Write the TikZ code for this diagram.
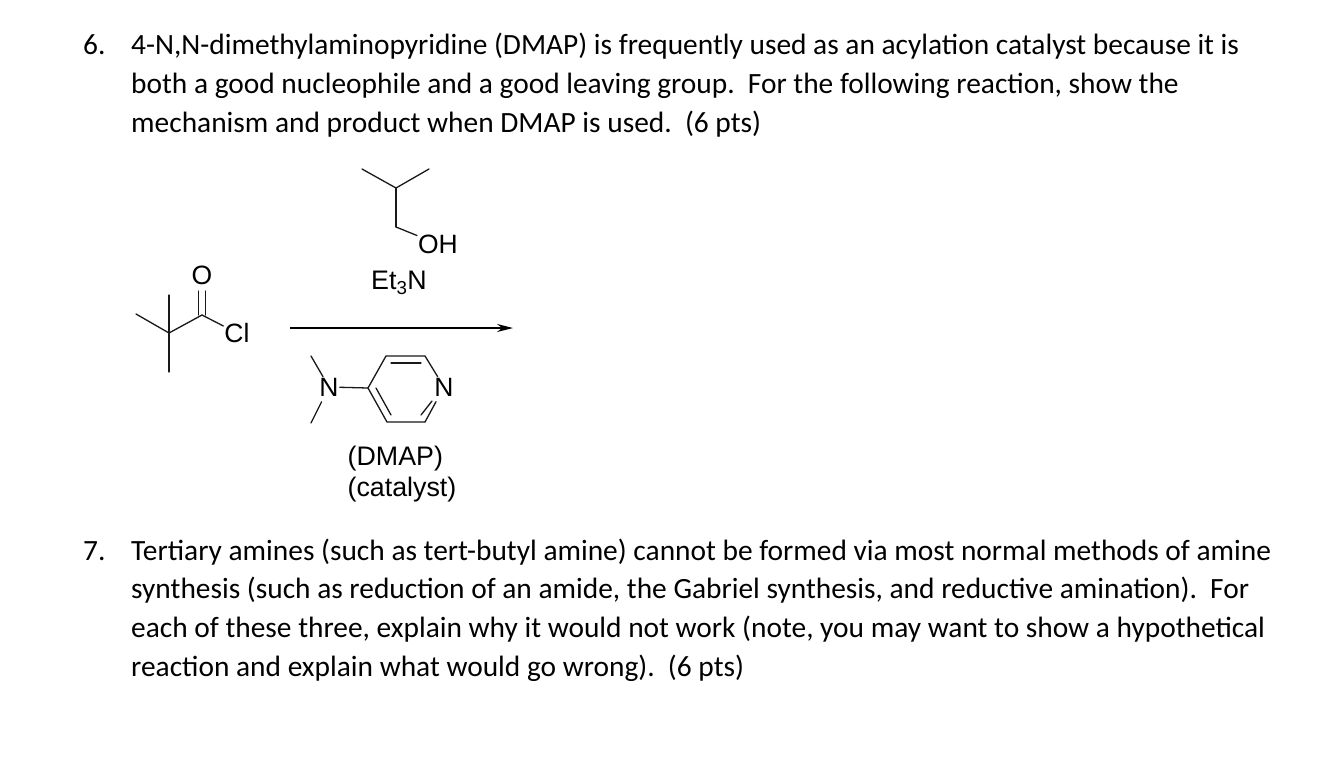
\documentclass[tikz,border=0pt]{standalone}
\usepackage{fontspec}
\setmainfont{Carlito}
\newfontfamily\chemfont{Liberation Sans}
\usetikzlibrary{arrows.meta, positioning}
\tikzstyle{question}=[inner sep=0pt, anchor=base west, font=\fontsize{29.4}{36}\selectfont]
\tikzstyle{atom}=[inner sep=1pt, font=\chemfont\fontsize{26.5}{26.5}\selectfont]
\tikzstyle{chemtext}=[inner sep=0pt, align=left, font=\chemfont\fontsize{26.8}{30.5}\selectfont]
\tikzstyle{bond}=[line width=1.3pt, line cap=round, black!90]

\begin{document}
\begin{tikzpicture}[x=1pt,y=-1pt]
\useasboundingbox[fill=white] (0,0) rectangle (1330,772);

% question 6
\node[question] (num6) at (83,54) {6.};
\node[question] (line61) at (131,54) {4-N,N-dimethylaminopyridine (DMAP) is frequently used as an acylation catalyst because it is};
\node[question] (line62) at (131,93) {both a good nucleophile and a good leaving group.\ \ For the following reaction, show the};
\node[question] (line63) at (131,132) {mechanism and product when DMAP is used.\ \ (6 pts)};

% acid chloride
\coordinate (tbu) at (169,333);
\coordinate (meleft) at (136,314);
\coordinate (metop) at (169,295);
\coordinate (mebot) at (169,372);
\coordinate (carb) at (202,315);
\node[atom] (oxy) at (202,275) {O};
\node[atom] (cl) at (237,333) {Cl};
\draw[bond] (tbu) -- (meleft);
\draw[bond] (metop) -- (mebot);
\draw[bond] (tbu) -- (carb);
\draw[bond] (carb) -- (cl);
\draw[bond] ([xshift=-3.3pt]carb) -- ([xshift=-3.3pt,yshift=24pt]carb);
\draw[bond] ([xshift=3.3pt]carb) -- ([xshift=3.3pt,yshift=24pt]carb);

% alcohol
\coordinate (ipr) at (396,188);
\coordinate (ipleft) at (362,169);
\coordinate (ipright) at (429,169);
\coordinate (chtwo) at (396,227);
\node[atom] (oh) at (438,244) {OH};
\node[chemtext] (base) at (399,283) {Et\textsubscript{3}N};
\draw[bond] (ipleft) -- (ipr) -- (ipright);
\draw[bond] (ipr) -- (chtwo);
\draw[bond] (chtwo) -- (oh);

% reaction arrow
\coordinate (arrstart) at (290,328);
\coordinate (arrend) at (513,328);
\draw[line width=1.5pt, -{Stealth[length=16pt,width=8pt]}] (arrstart) -- (arrend);

% DMAP
\node[atom] (amine) at (329,387) {N};
\node[atom] (pyr) at (444,387) {N};
\coordinate (menone) at (311,356);
\coordinate (mentwo) at (311,423);
\coordinate (ca) at (368,388);
\coordinate (cb) at (386,356);
\coordinate (cc) at (425,356);
\coordinate (cd) at (425,422);
\coordinate (ce) at (387,422);
\draw[bond] (menone) -- (amine);
\draw[bond, shorten >=5pt] (mentwo) -- (amine);
\draw[bond] (amine) -- (ca);
\draw[bond] (ca) -- (cb) -- (cc) -- (pyr);
\draw[bond, shorten <=5pt] (pyr) -- (cd);
\draw[bond] (cd) -- (ce) -- (ca);
\draw[bond] (391,363) -- (421,363);
\draw[bond] (376,388) -- (391,415);
\draw[bond] (421,415) -- (432,401);
\node[chemtext] (label) at (402,474) {(DMAP)\\(catalyst)};

% question 7
\node[question] (num7) at (83,560) {7.};
\node[question] (line71) at (131,560) {Tertiary amines (such as tert-butyl amine) cannot be formed via most normal methods of amine};
\node[question] (line72) at (131,598) {synthesis (such as reduction of an amide, the Gabriel synthesis, and reductive amination).\ \ For};
\node[question] (line73) at (131,637) {each of these three, explain why it would not work (note, you may want to show a hypothetical};
\node[question] (line74) at (131,676) {reaction and explain what would go wrong).\ \ (6 pts)};
\end{tikzpicture}
\end{document}
